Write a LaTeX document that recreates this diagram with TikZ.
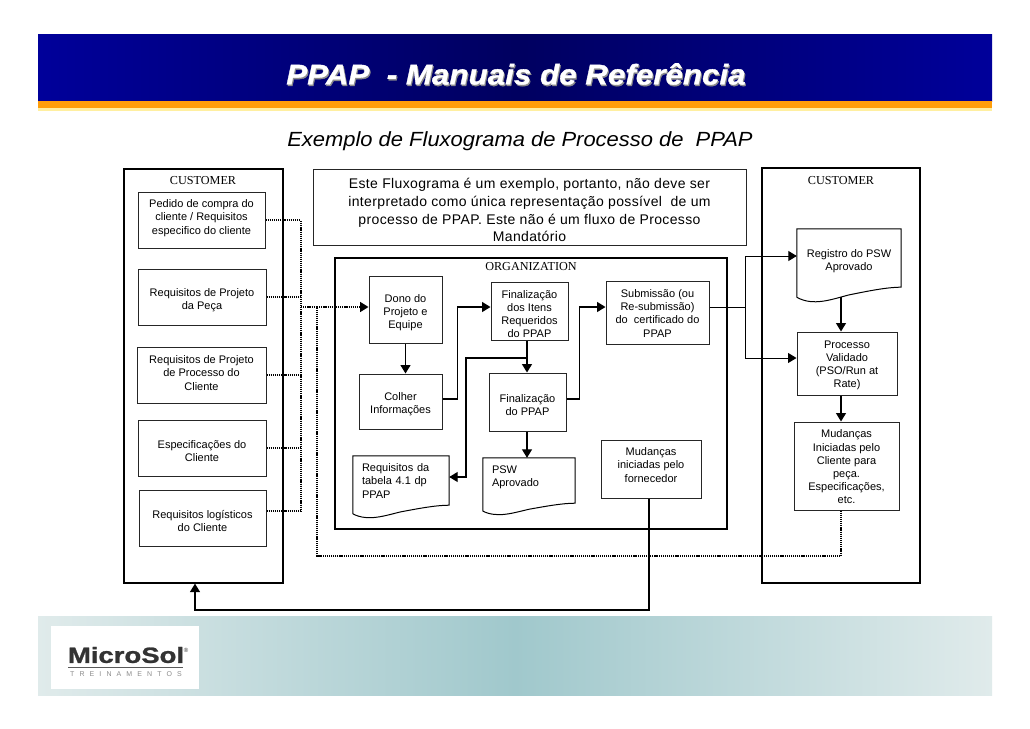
\documentclass[tikz,border=0pt]{standalone}
\usepackage{fontspec}
\setmainfont{Liberation Sans}
\newfontfamily\serifcap{Liberation Serif}
\usetikzlibrary{arrows.meta,calc}
\definecolor{bandedge}{HTML}{00009A}
\definecolor{bandmid}{HTML}{000060}
\definecolor{footedge}{HTML}{E0EBEB}
\definecolor{footmid}{HTML}{A0C8CC}
\definecolor{stripe}{HTML}{FF9E0A}
\definecolor{stripelight}{HTML}{FFEFA0}
\tikzset{
  flowbox/.style={draw=black!85,line width=1pt,inner sep=0pt,align=center,font=\fontsize{11}{13.2}\selectfont},
  docbox/.style={inner sep=0pt,font=\fontsize{11}{13.2}\selectfont},
  frame/.style={draw=black,line width=1.2pt,inner sep=0pt},
  caption/.style={inner sep=0pt,font=\serifcap\fontsize{12.2}{14}\selectfont},
  flowline/.style={black,line width=1pt},
  flowarrow/.style={black,line width=1.3pt,-{Triangle[length=8.5pt,width=10pt]}},
  thinarrow/.style={black,line width=1pt,-{Triangle[length=8.5pt,width=10pt]}},
  dotline/.style={black,line width=1.7pt,dash pattern=on 1.2pt off 0.9pt}
}
\newcommand{\lead}{\mbox{}\\[0.5pt]}
\newcommand{\docoutline}[2]{
  \draw[flowline] ([yshift=#2*0.28pt]#1.south west) -- (#1.north west) -- (#1.north east) -- ([yshift=#2pt]#1.south east)
    .. controls ($(#1.south west)!.86!(#1.south east)+(0,-#2)$) and ($(#1.south west)!.68!(#1.south east)+(0,-#2*0.72)$) .. ($(#1.south west)!.5!(#1.south east)+(0,-#2*0.45)$)
    .. controls ($(#1.south west)!.34!(#1.south east)+(0,-#2*0.15)$) and ($(#1.south west)!.16!(#1.south east)+(0,#2*0.39)$) .. ([yshift=#2*0.28pt]#1.south west);
}
\begin{document}
\begin{tikzpicture}[x=1pt,y=-1pt]
\useasboundingbox (0,0) rectangle (1030,728);
\shade [left color=bandedge,right color=bandedge,middle color=bandmid] (38,34) rectangle (992,101);
\fill [stripe] (38,101) rectangle (992,108);
\fill [stripelight] (38,108) rectangle (992,111);
\shade [left color=footedge,right color=footedge,middle color=footmid] (38,616) rectangle (992,695);
\fill [white] (51,626) rectangle (199,689);
\node [inner sep=0pt,text=black!45,font=\bfseries\itshape\fontsize{28.5}{30}\selectfont\addfontfeature{FakeStretch=1.1,FakeBold=1.2}] (titleshadow) at (517,75.5) {PPAP~~- Manuais de Referência};
\node [inner sep=0pt,text=white,font=\bfseries\itshape\fontsize{28.5}{30}\selectfont\addfontfeature{FakeStretch=1.1,FakeBold=1.2}] (title) at (516,74) {PPAP~~- Manuais de Referência};
\node [inner sep=0pt,font=\itshape\fontsize{20.5}{24}\selectfont\addfontfeature{FakeStretch=1.07}] (subtitle) at (520,141) {Exemplo de Fluxograma de Processo de~~PPAP};
\node [inner sep=0pt,text=black!80,font=\bfseries\fontsize{22}{26}\selectfont\addfontfeature{FakeStretch=1.25,FakeBold=1.2}] (logo) at (126,655) {MicroSol};
\node [inner sep=0pt,text=black!80,font=\fontsize{6}{7}\selectfont] (logoreg) at (186,650) {®};
\node [inner sep=0pt,text=black!45,font=\addfontfeature{LetterSpace=73}\fontsize{7}{8}\selectfont] (logosub) at (126,674) {TREINAMENTOS};
\draw [black!65,line width=0.8pt] (68,667) -- (183,667);
\node [frame,minimum width=159pt,minimum height=414pt] (custa) at (203.5,376) {};
\node [frame,minimum width=158pt,minimum height=415pt] (custb) at (841,375.5) {};
\node [frame,minimum width=392pt,minimum height=271pt] (org) at (531,393.5) {};
\node [caption] (custacap) at (203,181) {CUSTOMER};
\node [caption] (custbcap) at (841,181) {CUSTOMER};
\node [caption] (orgcap) at (531,267) {ORGANIZATION};
\node [flowbox,minimum width=433pt,minimum height=76pt,font=\addfontfeature{LetterSpace=2.6}\fontsize{14}{17.8}\selectfont] (note) at (529.5,207) {\mbox{}\\[-1.3pt]Este Fluxograma é um exemplo, portanto, não deve ser\\interpretado como única representação possível~~de um\\processo de PPAP. Este não é um fluxo de Processo\\Mandatório};
\node [flowbox,minimum width=127pt,minimum height=56pt] (pedido) at (201.5,220) {\lead Pedido de compra do\\cliente / Requisitos\\especifico do cliente\\[-1.2pt]};
\node [flowbox,minimum width=128pt,minimum height=56pt] (reqpeca) at (202,297) {\lead Requisitos de Projeto\\da Peça};
\node [flowbox,minimum width=129pt,minimum height=56pt] (reqproc) at (201.5,375) {\lead Requisitos de Projeto\\de Processo do\\Cliente\\[-3.2pt]};
\node [flowbox,minimum width=128pt,minimum height=56pt] (espec) at (202,448) {\lead Especificações do\\Cliente};
\node [flowbox,minimum width=127pt,minimum height=56pt] (logreq) at (202.5,518) {\lead Requisitos logísticos\\do Cliente};
\node [flowbox,minimum width=73pt,minimum height=67pt] (dono) at (405.5,309.5) {\lead Dono do\\Projeto e\\Equipe};
\node [flowbox,minimum width=83pt,minimum height=55pt] (colher) at (400.5,401.5) {\lead Colher\\Informações};
\node [flowbox,minimum width=77pt,minimum height=58pt] (finitens) at (529.5,311) {\lead Finalização\\dos Itens\\Requeridos\\do PPAP};
\node [flowbox,minimum width=77pt,minimum height=58pt] (finppap) at (527.5,402) {\lead Finalização\\do PPAP};
\node [flowbox,minimum width=103pt,minimum height=63pt] (submissao) at (657.5,312.5) {\lead Submissão (ou\\Re-submissão)\\do~~certificado do\\PPAP\\[-9.2pt]};
\node [flowbox,minimum width=100pt,minimum height=58pt] (mudfor) at (651,469) {\lead Mudanças\\iniciadas pelo\\fornecedor\\[0.8pt]};
\node [docbox,minimum width=96pt,minimum height=61pt,text width=78pt,align=left] (tabela) at (401,486.5) {Requisitos da\\tabela 4.1 dp\\PPAP\\[-2.2pt]\mbox{}};
\node [docbox,minimum width=92pt,minimum height=56pt,text width=74pt,align=left] (psw) at (529,486) {PSW\\Aprovado\\[5.8pt]\mbox{}};
\node [docbox,minimum width=104pt,minimum height=72pt,align=center] (registro) at (849,265) {Registro do PSW\\Aprovado\\[-3.2pt]};
\node [flowbox,minimum width=100pt,minimum height=63pt] (processo) at (847,363.5) {\lead Processo\\Validado\\(PSO/Run at\\Rate)\\[-8.2pt]};
\node [flowbox,minimum width=105pt,minimum height=88pt] (mudcli) at (846.5,466) {\lead Mudanças\\Iniciadas pelo\\Cliente para\\peça.\\Especificações,\\etc.\\[-9.2pt]};
\docoutline{tabela}{12}
\docoutline{psw}{11}
\docoutline{registro}{14}
\coordinate (busa) at (301,221);
\coordinate (busb) at (301,511);
\coordinate (busin) at (301,307);
\coordinate (busout) at (317,307);
\coordinate (busbot) at (317,556);
\coordinate (split) at (745,307);
\coordinate (branch) at (527,358);
\coordinate (tabin) at (466,477);
\coordinate (retcorner) at (195,610);
\draw [dotline] (pedido.east) -- (pedido.east -| busa);
\draw [dotline] (reqpeca.east) -- (reqpeca.east -| busa);
\draw [dotline] (reqproc.east) -- (reqproc.east -| busa);
\draw [dotline] (espec.east) -- (espec.east -| busa);
\draw [dotline] ([yshift=7pt]logreq.east) -- (busb);
\draw [dotline] (busa) -- (busb);
\draw [dotline] (busin) -- (busout);
\draw [dotline] ([xshift=-5.5pt]mudcli.south) |- (busbot) -- (busout);
\draw [dotline,-{Triangle[length=8.5pt,width=10pt]}] (busout) -- ([yshift=2.5pt]dono.west);
\draw [flowarrow] (dono.south) -- (dono.south |- colher.north);
\draw [flowarrow] ([yshift=2.5pt]colher.east) -- ++(15,0) |- ([yshift=4pt]finitens.west);
\draw [flowarrow] ([xshift=-2.5pt]finitens.south) -- ([xshift=-0.5pt]finppap.north);
\draw [flowarrow] (branch) -| (tabin) -- (tabin -| tabela.east);
\draw [flowarrow] ([yshift=3pt]finppap.east) -- ++(13,0) |- ([yshift=5.5pt]submissao.west);
\draw [flowarrow] ([xshift=-0.5pt]finppap.south) -- ([xshift=-2pt]psw.north);
\draw [flowline] ([yshift=5.5pt]submissao.east) -- (split);
\draw [thinarrow] (split) |- (registro.west |- 0,256);
\draw [thinarrow] (split) |- (processo.west |- 0,358);
\draw [flowarrow] ([xshift=-8pt,yshift=4pt]registro.south) -- ([xshift=-6pt]processo.north);
\draw [flowarrow] ([xshift=-6pt]processo.south) -- ([xshift=-5.5pt]mudcli.north);
\draw [flowarrow] ([xshift=-2pt]mudfor.south) |- (retcorner) -- ([xshift=-8.5pt]custa.south);
\end{tikzpicture}
\end{document}
